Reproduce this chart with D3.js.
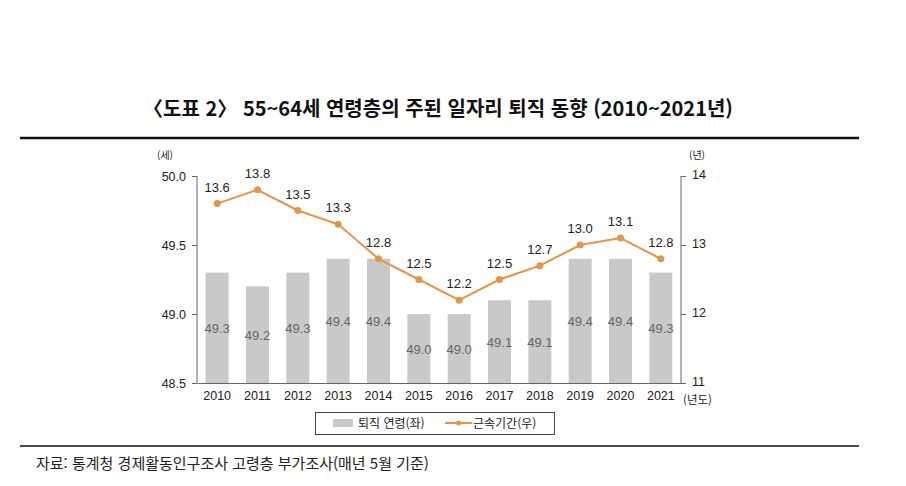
<!DOCTYPE html>
<html lang="ko">
<head>
<meta charset="utf-8">
<title>도표 2</title>
<script src="https://d3js.org/d3.v7.min.js"></script>
<style>
  body { margin: 0; background: #fff; }
  svg text { font-family: "Liberation Sans", "Noto Sans CJK KR", sans-serif; }
  .ko { font-family: "Noto Sans CJK KR", sans-serif; }
</style>
</head>
<body>
<div id="vis"></div>
<script>
// data
const years = ['2010','2011','2012','2013','2014','2015','2016','2017','2018','2019','2020','2021'];
const retireAge = [49.3, 49.2, 49.3, 49.4, 49.4, 49.0, 49.0, 49.1, 49.1, 49.4, 49.4, 49.3];
const tenure = [13.6, 13.8, 13.5, 13.3, 12.8, 12.5, 12.2, 12.5, 12.7, 13.0, 13.1, 12.8];
const leftTicks = [48.5, 49.0, 49.5, 50.0];
const rightTicks = [11, 12, 13, 14];

const width = 906, height = 486;
const x0 = 197, x1 = 681, yTop = 176, yBot = 383;

const svg = d3.select('#vis').append('svg')
  .attr('width', width).attr('height', height);

// title
svg.append('text').attr('class', 'ko')
  .attr('x', 438).attr('y', 116)
  .attr('text-anchor', 'middle')
  .attr('font-size', 20).attr('font-weight', 'bold')
  .attr('fill', '#111')
  .text('〈도표 2〉 55~64세 연령층의 주된 일자리 퇴직 동향 (2010~2021년)');

svg.append('line').attr('x1', 20).attr('x2', 859).attr('y1', 138).attr('y2', 138)
  .attr('stroke', '#111').attr('stroke-width', 2.5);

// scales
const xScale = d3.scaleBand().domain(years).range([x0, x1])
  .paddingInner(0.43).paddingOuter(0.215);
const yLeft = d3.scaleLinear().domain([48.5, 50]).range([yBot, yTop]);
const yRight = d3.scaleLinear().domain([11, 14]).range([yBot, yTop]);

// bars
svg.append('g').selectAll('rect')
  .data(retireAge).enter().append('rect')
  .attr('x', (d, i) => xScale(years[i]))
  .attr('y', d => yLeft(d))
  .attr('width', xScale.bandwidth())
  .attr('height', d => yBot - yLeft(d))
  .attr('fill', '#c9c9c9');

svg.append('g').selectAll('text')
  .data(retireAge).enter().append('text')
  .attr('x', (d, i) => xScale(years[i]) + xScale.bandwidth() / 2)
  .attr('y', d => (yLeft(d) + yBot) / 2 + 5)
  .attr('text-anchor', 'middle')
  .attr('font-size', 13).attr('fill', '#666')
  .text(d => d.toFixed(1));

// axes
const axLeft = svg.append('g').attr('transform', `translate(${x0},0)`)
  .call(d3.axisLeft(yLeft).tickValues(leftTicks).tickFormat(d3.format('.1f')).tickSize(5).tickPadding(6));
const axRight = svg.append('g').attr('transform', `translate(${x1},0)`)
  .call(d3.axisRight(yRight).tickValues(rightTicks).tickFormat(d3.format('d')).tickSize(5).tickPadding(6));
const axBottom = svg.append('g').attr('transform', `translate(0,${yBot})`)
  .call(d3.axisBottom(xScale).tickSize(0).tickPadding(8).tickSizeOuter(0));

[axLeft, axRight, axBottom].forEach(a => {
  a.select('.domain').attr('stroke', '#666');
  a.selectAll('.tick line').attr('stroke', '#666');
  a.selectAll('text').attr('font-size', 12.5).attr('fill', '#222')
    .attr('font-family', '"Liberation Sans", sans-serif');
});
axLeft.select('.domain').attr('d', `M0,${yTop}V${yBot}`);
axRight.select('.domain').attr('d', `M0,${yTop}V${yBot}`);
axRight.selectAll('.tick text').attr('dy', '0.22em');

// unit labels
svg.append('text').attr('class', 'ko').attr('x', 165).attr('y', 159)
  .attr('text-anchor', 'middle').attr('font-size', 10).attr('fill', '#222').text('(세)');
svg.append('text').attr('class', 'ko').attr('x', 697).attr('y', 159)
  .attr('text-anchor', 'middle').attr('font-size', 10).attr('fill', '#222').text('(년)');
svg.append('text').attr('class', 'ko').attr('x', 683).attr('y', 404)
  .attr('font-size', 11.5).attr('fill', '#222').text('(년도)');

// line
const cx = (d, i) => xScale(years[i]) + xScale.bandwidth() / 2;
const line = d3.line().x(cx).y(d => yRight(d));
svg.append('path').datum(tenure)
  .attr('d', line).attr('fill', 'none')
  .attr('stroke', '#e3954a').attr('stroke-width', 2);
svg.append('g').selectAll('circle')
  .data(tenure).enter().append('circle')
  .attr('cx', cx).attr('cy', d => yRight(d)).attr('r', 3.5)
  .attr('fill', '#e3954a');
svg.append('g').selectAll('text')
  .data(tenure).enter().append('text')
  .attr('x', cx).attr('y', d => yRight(d) - 12)
  .attr('text-anchor', 'middle')
  .attr('font-size', 13).attr('fill', '#222')
  .text(d => d.toFixed(1));

// legend
const lg = svg.append('g');
lg.append('rect').attr('x', 315.5).attr('y', 412.5).attr('width', 239).attr('height', 22)
  .attr('fill', '#fff').attr('stroke', '#444').attr('stroke-width', 1);
lg.append('rect').attr('x', 333).attr('y', 419).attr('width', 20).attr('height', 8).attr('fill', '#c9c9c9');
lg.append('text').attr('class', 'ko').attr('x', 358).attr('y', 428)
  .attr('font-size', 12).attr('fill', '#222').text('퇴직 연령(좌)');
lg.append('line').attr('x1', 445).attr('x2', 472).attr('y1', 423).attr('y2', 423)
  .attr('stroke', '#e3954a').attr('stroke-width', 2);
lg.append('circle').attr('cx', 458.5).attr('cy', 423).attr('r', 2.5).attr('fill', '#e3954a');
lg.append('text').attr('class', 'ko').attr('x', 473).attr('y', 428)
  .attr('font-size', 12).attr('fill', '#222').text('근속기간(우)');

// source
svg.append('line').attr('x1', 20).attr('x2', 859).attr('y1', 446).attr('y2', 446)
  .attr('stroke', '#111').attr('stroke-width', 1.5);
svg.append('text').attr('class', 'ko').attr('x', 36).attr('y', 469)
  .attr('font-size', 15).attr('fill', '#222')
  .text('자료: 통계청 경제활동인구조사 고령층 부가조사(매년 5월 기준)');
</script>
</body>
</html>
